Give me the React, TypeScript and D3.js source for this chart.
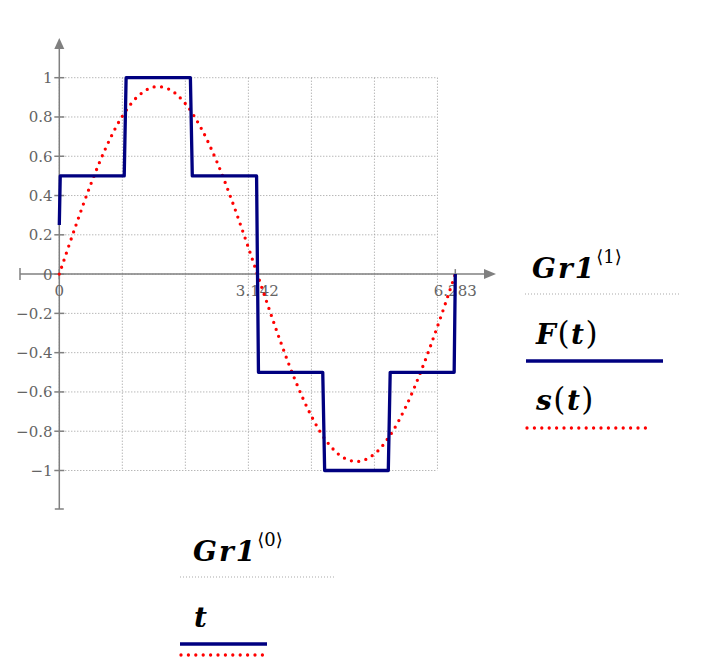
import React from 'react'
import * as d3 from 'd3'

// F(t): step function, breakpoints
const fT = [0, 0.015, 1.03, 1.06, 2.08, 2.11, 3.13, 3.16, 4.18, 4.21, 5.22, 5.25, 6.265, 6.283]
const fV = [0.25, 0.5, 0.5, 1, 1, 0.5, 0.5, -0.5, -0.5, -1, -1, -0.5, -0.5, 0]

// s(t): smooth curve samples
const sT = [0, 0.25, 0.5, 0.75, 1, 1.25, 1.5, 1.75, 2, 2.25, 2.5, 2.75, 3, 3.25, 3.5, 3.75, 4, 4.25, 4.5, 4.75, 5, 5.25, 5.5, 5.75, 6, 6.283]
const sV = [0, 0.236, 0.458, 0.651, 0.804, 0.906, 0.953, 0.94, 0.868, 0.743, 0.572, 0.364, 0.135, -0.103, -0.335, -0.546, -0.723, -0.855, -0.933, -0.954, -0.916, -0.82, -0.674, -0.485, -0.267, 0]

const yTicks = [-1, -0.8, -0.6, -0.4, -0.2, 0, 0.2, 0.4, 0.6, 0.8, 1]
const xTicks = [0, 3.142, 6.283]
const xGrid = [0, 1, 2, 3, 4, 5, 6]

const AXIS = '#808080'
const NAVY = '#000080'
const LABEL = '#646464'
const SERIF = "'DejaVu Serif', serif"

// math-style label: italic bold letters, upright parens
const MathLabel = ({ x, y, name, arg }: { x: number; y: number; name: string; arg: string }) => (
	<text x={x} y={y} fontFamily={SERIF} fontSize={28} letterSpacing={1.5}>
		<tspan fontStyle="italic" fontWeight="bold">{name}</tspan>
		<tspan fontSize={31}>(</tspan>
		<tspan fontStyle="italic" fontWeight="bold">{arg}</tspan>
		<tspan fontSize={31}>)</tspan>
	</text>
)

const GrLabel = ({ x, y, idx }: { x: number; y: number; idx: string }) => (
	<text x={x} y={y} fontFamily={SERIF}>
		<tspan fontSize={28} fontStyle="italic" fontWeight="bold" letterSpacing={2}>
			Gr1
		</tspan>
		<tspan fontSize={18} dy={-15}>
			⟨{idx}⟩
		</tspan>
	</text>
)

const App = () => {
	const x = d3.scaleLinear().domain([0, 6.283]).range([59.3, 455.3])
	const y = d3.scaleLinear().domain([-1, 1]).range([470.5, 77.7])

	const fLine = d3
		.line<number>()
		.x((d, i) => x(fT[i]))
		.y((d) => y(d))
	const sLine = d3
		.line<number>()
		.x((d, i) => x(sT[i]))
		.y((d) => y(d))
		.curve(d3.curveCatmullRom)

	const x0 = x(0)
	const y0 = y(0)
	const gridDash = '1 2'
	const redDash = '0 7.4'

	return (
		<svg
			width={710}
			height={666}
			style={{ position: 'absolute', left: 0, top: 0, background: '#fff' }}
		>
			{/* grid */}
			<g stroke="#999" strokeWidth={1} strokeDasharray={gridDash}>
				{yTicks.map((v) => (
					<line key={'h' + v} x1={x(0)} x2={x(6)} y1={y(v)} y2={y(v)} />
				))}
				{xGrid.map((v) => (
					<line key={'v' + v} x1={x(v)} x2={x(v)} y1={y(1)} y2={y(-1)} />
				))}
			</g>

			{/* axes */}
			<g stroke={AXIS} strokeWidth={1.5}>
				<line x1={20} x2={485} y1={y0} y2={y0} />
				<line x1={20} x2={20} y1={y0 - 6} y2={y0 + 6} />
				<line x1={x0} x2={x0} y1={509} y2={48} />
				<line x1={x0 - 4.5} x2={x0 + 4.5} y1={509} y2={509} />
				{yTicks.map((v) => (
					<line key={'yt' + v} x1={x0 - 5} x2={x0 + 5} y1={y(v)} y2={y(v)} />
				))}
				{xTicks.map((v) => (
					<line key={'xt' + v} x1={x(v)} x2={x(v)} y1={y0 - 5} y2={y0 + 5} />
				))}
			</g>
			<polygon points={`${x0},38 ${x0 - 5},49 ${x0 + 5},49`} fill={AXIS} />
			<polygon points={`496,${y0} 484,${y0 - 5} 484,${y0 + 5}`} fill={AXIS} />

			{/* tick labels */}
			<g fontFamily={SERIF} fontSize={15} fill={LABEL}>
				{yTicks.map((v) => (
					<text key={'yl' + v} x={52.5} y={y(v) + 5.5} textAnchor="end">
						{v < 0 ? '\u2212' + Math.abs(v) : String(v)}
					</text>
				))}
				{xTicks.map((v) => (
					<text key={'xl' + v} x={x(v)} y={295.5} textAnchor="middle">
						{String(v)}
					</text>
				))}
			</g>

			{/* series */}
			<path
				d={sLine(sV) || ''}
				fill="none"
				stroke="#ff0000"
				strokeWidth={3.3}
				strokeDasharray={redDash}
				strokeLinecap="round"
			/>
			<path
				d={fLine(fV) || ''}
				fill="none"
				stroke={NAVY}
				strokeWidth={3.3}
				strokeLinejoin="round"
			/>

			{/* right legend (y) */}
			<GrLabel x={532} y={278} idx="1" />
			<line x1={525} x2={679} y1={294} y2={294} stroke="#aaa" strokeWidth={1.2} strokeDasharray={gridDash} />
			<MathLabel x={536} y={344} name="F" arg="t" />
			<line x1={526} x2={663} y1={361} y2={361} stroke={NAVY} strokeWidth={3.3} />
			<MathLabel x={536} y={410} name="s" arg="t" />
			<line x1={527} x2={651} y1={428} y2={428} stroke="#ff0000" strokeWidth={3.3} strokeDasharray={redDash} strokeLinecap="round" />

			{/* bottom legend (x) */}
			<GrLabel x={193} y={561} idx="0" />
			<line x1={180} x2={334} y1={577} y2={577} stroke="#aaa" strokeWidth={1.2} strokeDasharray={gridDash} />
			<text x={194} y={627} fontFamily={SERIF} fontSize={28} fontStyle="italic" fontWeight="bold">
				t
			</text>
			<line x1={180} x2={267} y1={644} y2={644} stroke={NAVY} strokeWidth={3.3} />
			<line x1={181} x2={265} y1={655} y2={655} stroke="#ff0000" strokeWidth={3.3} strokeDasharray={redDash} strokeLinecap="round" />
		</svg>
	)
}

export default App
